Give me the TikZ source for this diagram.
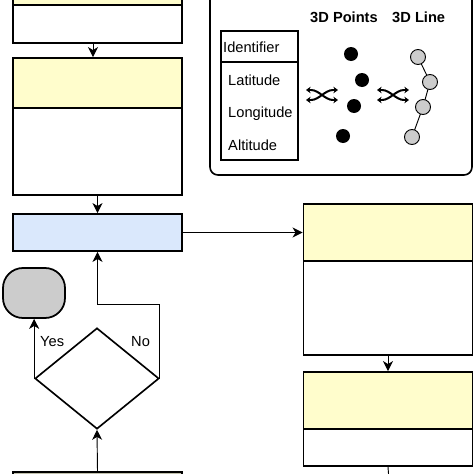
\documentclass[tikz,border=0pt]{standalone}
\usepackage{fontspec}
\setmainfont{Liberation Sans}
\usetikzlibrary{arrows.meta,shapes.geometric}

\definecolor{headyellow}{RGB}{255,253,204}
\definecolor{procblue}{RGB}{218,232,252}
\definecolor{termgray}{RGB}{204,204,204}
\definecolor{sourcegray}{RGB}{192,192,172}

\tikzset{
  block/.style={draw, line width=1.6pt, minimum width=5.07cm, inner sep=0pt},
  head/.style={block, fill=headyellow},
  body/.style={block, fill=white},
  flow/.style={-{Stealth[length=3mm,width=3mm,inset=0.9mm]}, line width=0.8pt},
  link/.style={line width=0.8pt},
  decision/.style={draw, diamond, line width=1.4pt, inner sep=0pt,
    minimum width=3.72cm, minimum height=3.03cm},
  terminal/.style={draw, line width=1.5pt, fill=termgray, rounded corners=0.6cm,
    minimum width=1.86cm, minimum height=1.5cm},
  legendbox/.style={draw, line width=1.4pt, rounded corners=0.24cm,
    minimum width=7.86cm, minimum height=5.85cm},
  cell/.style={draw, line width=1pt, minimum width=2.31cm, inner sep=0pt},
  field/.style={anchor=base west, inner sep=0pt},
  point/.style={circle, fill=black, minimum size=0.42cm, inner sep=0pt},
  vertex/.style={circle, draw, fill=termgray, line width=0.8pt, minimum size=0.45cm, inner sep=0pt},
  mixarrow/.style={{Stealth[length=1.4mm,width=2mm]}-{Stealth[length=1.4mm,width=2mm]}, line width=1.7pt}
}

\begin{document}
\begin{tikzpicture}[x=0.03cm,y=-0.03cm,font=\fontsize{12.5}{15}\selectfont]
    \useasboundingbox (0,0) rectangle (474,474);
    \clip (0,0) rectangle (474,474);

    % Left column
    \node[head, minimum height=1.5cm] (readhead) at (97.5,-20) {};
    \node[body, minimum height=1.14cm] (readbody) at (97.5,24) {};
    \node[head, minimum height=1.5cm] (parsehead) at (97.5,83) {};
    \node[body, minimum height=2.61cm] (parsebody) at (97.5,151.5) {};
    \node[block, fill=procblue, minimum height=1.11cm] (convert) at (97.5,232.5) {};
    \node[block, fill=sourcegray, minimum height=1.2cm] (source) at (97.5,492) {};
    \node[decision] (check) at (97,378.5) {};
    \node[terminal] (stop) at (34,293) {};

    % Right column
    \node[head, minimum height=1.71cm] (buildhead) at (388,232.5) {};
    \node[body, minimum height=2.82cm] (buildbody) at (388,308) {};
    \node[head, minimum height=1.71cm] (exporthead) at (388,400.5) {};
    \node[body, minimum height=1.11cm] (exportbody) at (388,447.5) {};
    \coordinate (exportout) at (389,480);

    % Legend
    \node[legendbox] (legend) at (341,77.5) {};
    \node[cell, minimum height=0.93cm] (idcell) at (259.5,46.5) {};
    \node[cell, minimum height=2.94cm] (poscell) at (259.5,111) {};
    \node[field] (ident) at (223,52) {Identifier};
    \node[field] (lat) at (228,85) {Latitude};
    \node[field] (lon) at (228,117) {Longitude};
    \node[field] (alt) at (228,150) {Altitude};
    \node[anchor=base west, inner sep=0pt, font=\fontsize{12.5}{15}\selectfont\bfseries] (ptstitle) at (310,22.7) {3D Points};
    \node[anchor=base west, inner sep=0pt, font=\fontsize{12.5}{15}\selectfont\bfseries] (linetitle) at (392,22.7) {3D Line};
    \node[point] (p1) at (351,54) {};
    \node[point] (p2) at (362,80) {};
    \node[point] (p3) at (354,106) {};
    \node[point] (p4) at (343,136) {};
    \draw[line width=0.8pt] (418,57) -- (430,82) -- (423,107) -- (412,137);
    \node[vertex] (v1) at (418,57) {};
    \node[vertex] (v2) at (430,82) {};
    \node[vertex] (v3) at (423,107) {};
    \node[vertex] (v4) at (412,137) {};
    \foreach \cx in {322,393} {
        \draw[mixarrow] (\cx-16,90) -- (\cx-11,90) .. controls (\cx-3,90) and (\cx+3,100) .. (\cx+11,100) -- (\cx+16,100);
        \draw[mixarrow] (\cx-16,100) -- (\cx-11,100) .. controls (\cx-3,100) and (\cx+3,90) .. (\cx+11,90) -- (\cx+16,90);
    }

    % Connectors
    \draw[flow] (readbody.south -| 93,0) -- (parsehead.north -| 93,0);
    \draw[flow] (parsebody.south) -- (convert.north);
    \draw[flow] (convert.east) -- (buildhead.west);
    \draw[flow] (source.north) -- (check.south);
    \draw[flow] (check.west) -- (check.west |- stop.south);
    \node[anchor=base west, inner sep=0pt] (yes) at (40,346) {Yes};
    \draw[flow] (check.east) -- ++(0,-74) -| (convert.south);
    \node[anchor=base west, inner sep=0pt] (no) at (131,346) {No};
    \draw[flow] (buildbody.south) -- (exporthead.north);
    \draw[link] (exportbody.south) -- (exportout);
\end{tikzpicture}
\end{document}
